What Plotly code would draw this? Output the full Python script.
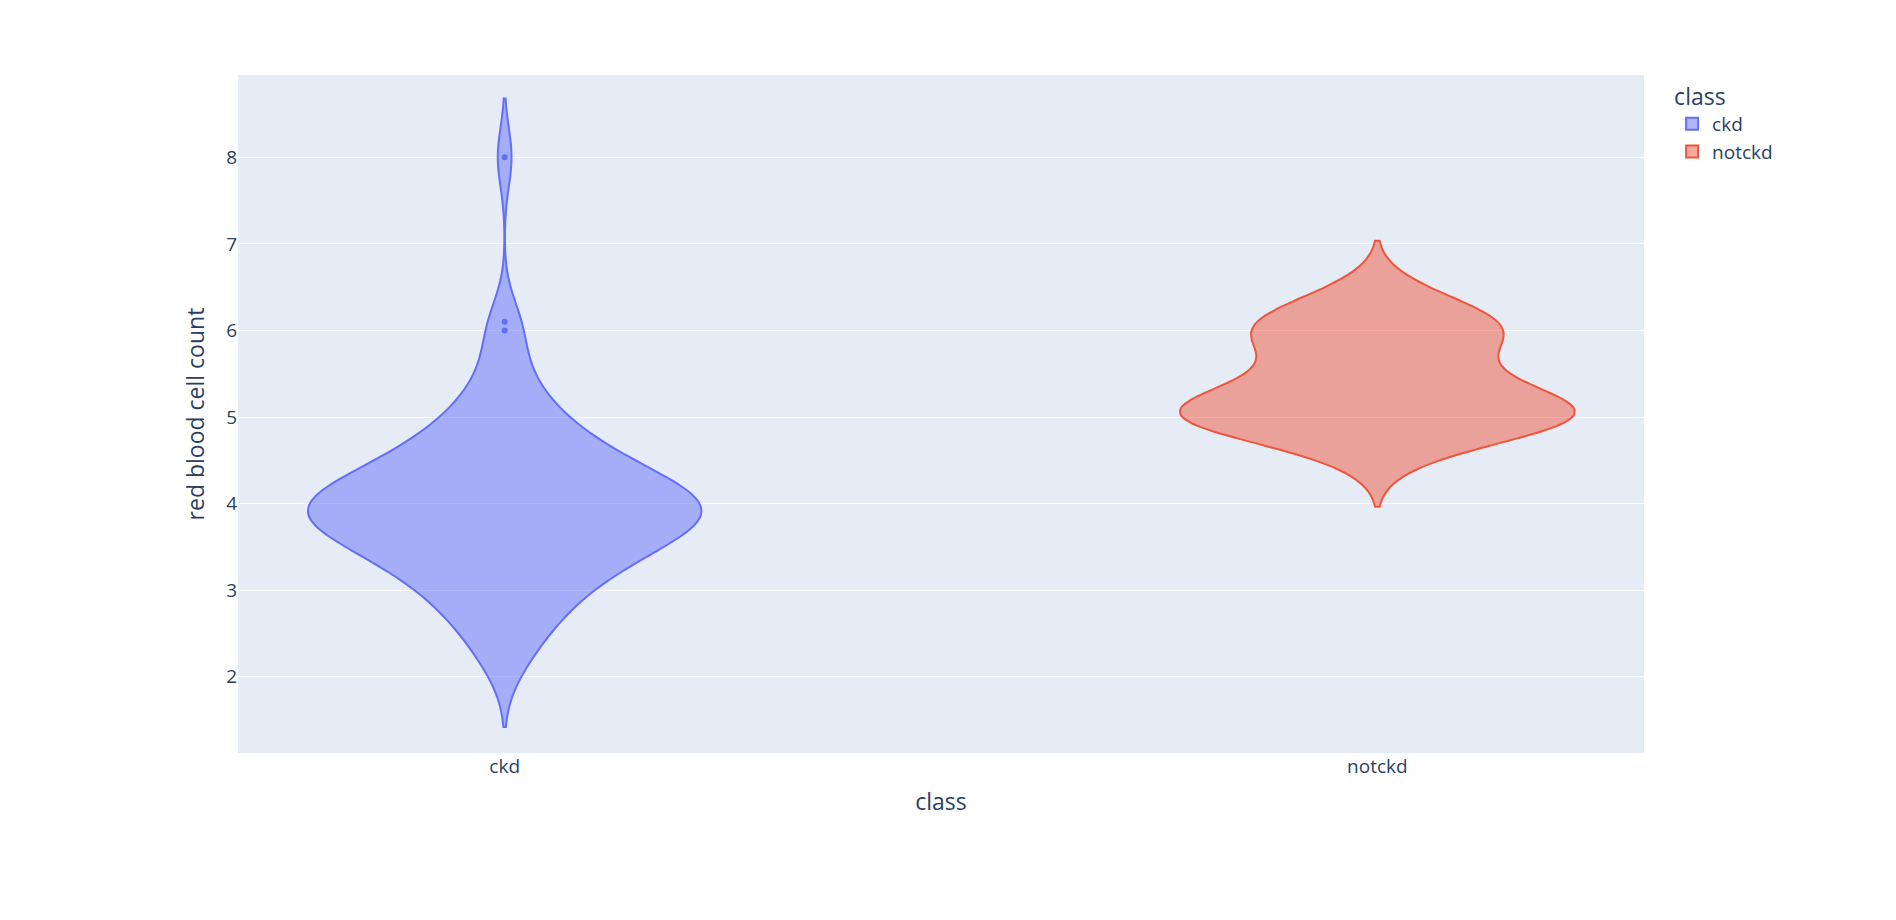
import plotly.express as px
import pandas as pd

# red blood cell counts (millions/cmm) per class
ckd_rbc = [2.1, 2.3, 2.5, 2.6, 2.7, 2.8, 2.9, 3.0, 3.0, 3.1, 3.2, 3.2, 3.3, 3.3, 3.4,
           3.4, 3.4, 3.5, 3.5, 3.6, 3.6, 3.6, 3.7, 3.7, 3.7, 3.8, 3.8, 3.8, 3.8, 3.9,
           3.9, 3.9, 3.9, 3.9, 4.0, 4.0, 4.0, 4.0, 4.0, 4.1, 4.1, 4.1, 4.2, 4.2, 4.2,
           4.3, 4.3, 4.3, 4.4, 4.4, 4.5, 4.5, 4.6, 4.6, 4.7, 4.7, 4.8, 4.9, 5.0, 5.1,
           5.2, 5.4, 5.6, 6.0, 6.1, 8.0]
notckd_rbc = [4.5, 4.6, 4.7, 4.8, 4.8, 4.9, 4.9, 4.9, 4.9, 5.0, 5.0, 5.0, 5.0, 5.0,
              5.0, 5.1, 5.1, 5.1, 5.1, 5.2, 5.2, 5.2, 5.3, 5.3, 5.4, 5.4, 5.5, 5.5,
              5.6, 5.7, 5.8, 5.8, 5.9, 5.9, 6.0, 6.0, 6.0, 6.1, 6.1, 6.1, 6.2, 6.2,
              6.3, 6.4, 6.5]

df = pd.DataFrame({
    'class': ['ckd'] * len(ckd_rbc) + ['notckd'] * len(notckd_rbc),
    'red blood cell count': ckd_rbc + notckd_rbc,
})

fig = px.violin(df, x='class', y='red blood cell count', color='class')
fig.update_traces(line_width=2, width=0.45)
fig.update_layout(
    font=dict(size=19),
    margin=dict(l=230, r=244, t=67, b=159),
    yaxis_range=[1.12, 8.95],
)
fig.write_html("out.html")
